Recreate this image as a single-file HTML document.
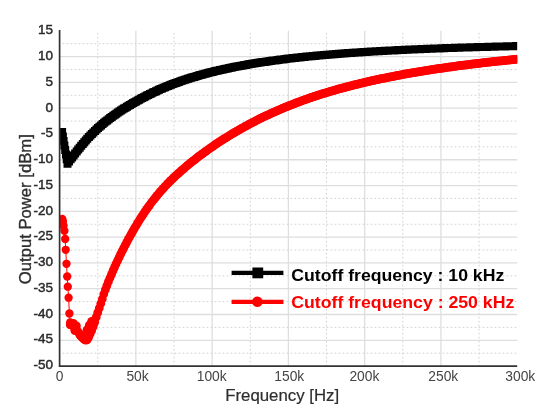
<!DOCTYPE html>
<html lang="en"><head><meta charset="utf-8"><title>Output Power vs Frequency</title>
<style>html,body{margin:0;padding:0;background:#fff}body{width:550px;height:414px;overflow:hidden}svg{display:block}</style></head>
<body>
<svg width="550" height="414" viewBox="0 0 550 414">
<rect width="550" height="414" fill="#fff"/>
<g><line x1="97.73" y1="32.8" x2="97.73" y2="366.1" stroke="#d2d2d2" stroke-width="1" stroke-dasharray="1.7 2.3"/><line x1="135.87" y1="30.8" x2="135.87" y2="366.1" stroke="#dedede" stroke-width="1.3"/><line x1="174.00" y1="32.8" x2="174.00" y2="366.1" stroke="#d2d2d2" stroke-width="1" stroke-dasharray="1.7 2.3"/><line x1="212.13" y1="30.8" x2="212.13" y2="366.1" stroke="#dedede" stroke-width="1.3"/><line x1="250.27" y1="32.8" x2="250.27" y2="366.1" stroke="#d2d2d2" stroke-width="1" stroke-dasharray="1.7 2.3"/><line x1="288.40" y1="30.8" x2="288.40" y2="366.1" stroke="#dedede" stroke-width="1.3"/><line x1="326.53" y1="32.8" x2="326.53" y2="366.1" stroke="#d2d2d2" stroke-width="1" stroke-dasharray="1.7 2.3"/><line x1="364.67" y1="30.8" x2="364.67" y2="366.1" stroke="#dedede" stroke-width="1.3"/><line x1="402.80" y1="32.8" x2="402.80" y2="366.1" stroke="#d2d2d2" stroke-width="1" stroke-dasharray="1.7 2.3"/><line x1="440.93" y1="30.8" x2="440.93" y2="366.1" stroke="#dedede" stroke-width="1.3"/><line x1="479.07" y1="32.8" x2="479.07" y2="366.1" stroke="#d2d2d2" stroke-width="1" stroke-dasharray="1.7 2.3"/><line x1="62.6" y1="43.70" x2="517.2" y2="43.70" stroke="#d2d2d2" stroke-width="1" stroke-dasharray="1.7 2.3"/><line x1="59.6" y1="56.59" x2="517.2" y2="56.59" stroke="#dedede" stroke-width="1.3"/><line x1="62.6" y1="69.49" x2="517.2" y2="69.49" stroke="#d2d2d2" stroke-width="1" stroke-dasharray="1.7 2.3"/><line x1="59.6" y1="82.38" x2="517.2" y2="82.38" stroke="#dedede" stroke-width="1.3"/><line x1="62.6" y1="95.28" x2="517.2" y2="95.28" stroke="#d2d2d2" stroke-width="1" stroke-dasharray="1.7 2.3"/><line x1="59.6" y1="108.18" x2="517.2" y2="108.18" stroke="#dedede" stroke-width="1.3"/><line x1="62.6" y1="121.07" x2="517.2" y2="121.07" stroke="#d2d2d2" stroke-width="1" stroke-dasharray="1.7 2.3"/><line x1="59.6" y1="133.97" x2="517.2" y2="133.97" stroke="#dedede" stroke-width="1.3"/><line x1="62.6" y1="146.87" x2="517.2" y2="146.87" stroke="#d2d2d2" stroke-width="1" stroke-dasharray="1.7 2.3"/><line x1="59.6" y1="159.76" x2="517.2" y2="159.76" stroke="#dedede" stroke-width="1.3"/><line x1="62.6" y1="172.66" x2="517.2" y2="172.66" stroke="#d2d2d2" stroke-width="1" stroke-dasharray="1.7 2.3"/><line x1="59.6" y1="185.55" x2="517.2" y2="185.55" stroke="#dedede" stroke-width="1.3"/><line x1="62.6" y1="198.45" x2="517.2" y2="198.45" stroke="#d2d2d2" stroke-width="1" stroke-dasharray="1.7 2.3"/><line x1="59.6" y1="211.35" x2="517.2" y2="211.35" stroke="#dedede" stroke-width="1.3"/><line x1="62.6" y1="224.24" x2="517.2" y2="224.24" stroke="#d2d2d2" stroke-width="1" stroke-dasharray="1.7 2.3"/><line x1="59.6" y1="237.14" x2="517.2" y2="237.14" stroke="#dedede" stroke-width="1.3"/><line x1="62.6" y1="250.03" x2="517.2" y2="250.03" stroke="#d2d2d2" stroke-width="1" stroke-dasharray="1.7 2.3"/><line x1="59.6" y1="262.93" x2="517.2" y2="262.93" stroke="#dedede" stroke-width="1.3"/><line x1="62.6" y1="275.83" x2="517.2" y2="275.83" stroke="#d2d2d2" stroke-width="1" stroke-dasharray="1.7 2.3"/><line x1="59.6" y1="288.72" x2="517.2" y2="288.72" stroke="#dedede" stroke-width="1.3"/><line x1="62.6" y1="301.62" x2="517.2" y2="301.62" stroke="#d2d2d2" stroke-width="1" stroke-dasharray="1.7 2.3"/><line x1="59.6" y1="314.52" x2="517.2" y2="314.52" stroke="#dedede" stroke-width="1.3"/><line x1="62.6" y1="327.41" x2="517.2" y2="327.41" stroke="#d2d2d2" stroke-width="1" stroke-dasharray="1.7 2.3"/><line x1="59.6" y1="340.31" x2="517.2" y2="340.31" stroke="#dedede" stroke-width="1.3"/><line x1="62.6" y1="353.20" x2="517.2" y2="353.20" stroke="#d2d2d2" stroke-width="1" stroke-dasharray="1.7 2.3"/></g>
<defs><clipPath id="cp"><rect x="59.6" y="0" width="457.6" height="414"/></clipPath></defs>
<g clip-path="url(#cp)"><path d="M58.1 128.0h8.0v8.0h-8.0zM58.9 132.5h8.0v8.0h-8.0zM59.6 137.1h8.0v8.0h-8.0zM60.4 141.6h8.0v8.0h-8.0zM61.2 146.1h8.0v8.0h-8.0zM62.0 150.6h8.0v8.0h-8.0zM62.7 155.2h8.0v8.0h-8.0zM63.5 159.7h8.0v8.0h-8.0zM65.0 157.4h8.0v8.0h-8.0zM66.6 155.2h8.0v8.0h-8.0zM68.1 153.5h8.0v8.0h-8.0zM69.6 151.5h8.0v8.0h-8.0zM71.1 149.6h8.0v8.0h-8.0zM72.7 147.6h8.0v8.0h-8.0zM74.2 145.6h8.0v8.0h-8.0zM75.7 143.7h8.0v8.0h-8.0zM77.2 141.8h8.0v8.0h-8.0zM78.8 140.0h8.0v8.0h-8.0zM80.3 138.2h8.0v8.0h-8.0zM81.8 136.5h8.0v8.0h-8.0zM83.3 134.8h8.0v8.0h-8.0zM84.9 133.1h8.0v8.0h-8.0zM86.4 131.5h8.0v8.0h-8.0zM87.9 129.9h8.0v8.0h-8.0zM89.4 128.4h8.0v8.0h-8.0zM91.0 126.9h8.0v8.0h-8.0zM92.5 125.5h8.0v8.0h-8.0zM94.0 124.1h8.0v8.0h-8.0zM95.5 122.7h8.0v8.0h-8.0zM97.1 121.4h8.0v8.0h-8.0zM98.6 120.1h8.0v8.0h-8.0zM100.1 118.8h8.0v8.0h-8.0zM101.6 117.6h8.0v8.0h-8.0zM103.2 116.4h8.0v8.0h-8.0zM104.7 115.2h8.0v8.0h-8.0zM106.2 114.0h8.0v8.0h-8.0zM107.7 112.9h8.0v8.0h-8.0zM109.3 111.8h8.0v8.0h-8.0zM110.8 110.7h8.0v8.0h-8.0zM112.3 109.7h8.0v8.0h-8.0zM113.8 108.6h8.0v8.0h-8.0zM115.4 107.6h8.0v8.0h-8.0zM116.9 106.6h8.0v8.0h-8.0zM118.4 105.6h8.0v8.0h-8.0zM119.9 104.6h8.0v8.0h-8.0zM121.5 103.7h8.0v8.0h-8.0zM123.0 102.7h8.0v8.0h-8.0zM124.5 101.8h8.0v8.0h-8.0zM126.0 100.9h8.0v8.0h-8.0zM127.6 100.0h8.0v8.0h-8.0zM129.1 99.1h8.0v8.0h-8.0zM130.6 98.2h8.0v8.0h-8.0zM132.1 97.4h8.0v8.0h-8.0zM133.7 96.5h8.0v8.0h-8.0zM135.2 95.7h8.0v8.0h-8.0zM136.7 94.8h8.0v8.0h-8.0zM138.2 94.0h8.0v8.0h-8.0zM139.8 93.2h8.0v8.0h-8.0zM141.3 92.4h8.0v8.0h-8.0zM142.8 91.6h8.0v8.0h-8.0zM144.3 90.9h8.0v8.0h-8.0zM145.9 90.1h8.0v8.0h-8.0zM147.4 89.4h8.0v8.0h-8.0zM148.9 88.6h8.0v8.0h-8.0zM150.4 87.9h8.0v8.0h-8.0zM152.0 87.2h8.0v8.0h-8.0zM153.5 86.5h8.0v8.0h-8.0zM155.0 85.8h8.0v8.0h-8.0zM156.5 85.1h8.0v8.0h-8.0zM158.1 84.5h8.0v8.0h-8.0zM159.6 83.8h8.0v8.0h-8.0zM161.1 83.2h8.0v8.0h-8.0zM162.6 82.5h8.0v8.0h-8.0zM164.2 81.9h8.0v8.0h-8.0zM165.7 81.3h8.0v8.0h-8.0zM167.2 80.7h8.0v8.0h-8.0zM168.7 80.1h8.0v8.0h-8.0zM170.3 79.5h8.0v8.0h-8.0zM171.8 79.0h8.0v8.0h-8.0zM173.3 78.4h8.0v8.0h-8.0zM174.8 77.9h8.0v8.0h-8.0zM176.4 77.3h8.0v8.0h-8.0zM177.9 76.8h8.0v8.0h-8.0zM179.4 76.3h8.0v8.0h-8.0zM181.0 75.8h8.0v8.0h-8.0zM182.5 75.2h8.0v8.0h-8.0zM184.0 74.8h8.0v8.0h-8.0zM185.5 74.3h8.0v8.0h-8.0zM187.1 73.8h8.0v8.0h-8.0zM188.6 73.3h8.0v8.0h-8.0zM190.1 72.9h8.0v8.0h-8.0zM191.6 72.4h8.0v8.0h-8.0zM193.2 72.0h8.0v8.0h-8.0zM194.7 71.5h8.0v8.0h-8.0zM196.2 71.1h8.0v8.0h-8.0zM197.7 70.7h8.0v8.0h-8.0zM199.3 70.2h8.0v8.0h-8.0zM200.8 69.8h8.0v8.0h-8.0zM202.3 69.4h8.0v8.0h-8.0zM203.8 69.0h8.0v8.0h-8.0zM205.4 68.6h8.0v8.0h-8.0zM206.9 68.3h8.0v8.0h-8.0zM208.4 67.9h8.0v8.0h-8.0zM209.9 67.5h8.0v8.0h-8.0zM211.5 67.1h8.0v8.0h-8.0zM213.0 66.8h8.0v8.0h-8.0zM214.5 66.4h8.0v8.0h-8.0zM216.0 66.1h8.0v8.0h-8.0zM217.6 65.7h8.0v8.0h-8.0zM219.1 65.4h8.0v8.0h-8.0zM220.6 65.0h8.0v8.0h-8.0zM222.1 64.7h8.0v8.0h-8.0zM223.7 64.4h8.0v8.0h-8.0zM225.2 64.1h8.0v8.0h-8.0zM226.7 63.8h8.0v8.0h-8.0zM228.2 63.4h8.0v8.0h-8.0zM229.8 63.1h8.0v8.0h-8.0zM231.3 62.8h8.0v8.0h-8.0zM232.8 62.5h8.0v8.0h-8.0zM234.3 62.2h8.0v8.0h-8.0zM235.9 62.0h8.0v8.0h-8.0zM237.4 61.7h8.0v8.0h-8.0zM238.9 61.4h8.0v8.0h-8.0zM240.4 61.1h8.0v8.0h-8.0zM242.0 60.9h8.0v8.0h-8.0zM243.5 60.6h8.0v8.0h-8.0zM245.0 60.3h8.0v8.0h-8.0zM246.5 60.1h8.0v8.0h-8.0zM248.1 59.8h8.0v8.0h-8.0zM249.6 59.6h8.0v8.0h-8.0zM251.1 59.3h8.0v8.0h-8.0zM252.6 59.1h8.0v8.0h-8.0zM254.2 58.8h8.0v8.0h-8.0zM255.7 58.6h8.0v8.0h-8.0zM257.2 58.3h8.0v8.0h-8.0zM258.7 58.1h8.0v8.0h-8.0zM260.3 57.9h8.0v8.0h-8.0zM261.8 57.7h8.0v8.0h-8.0zM263.3 57.4h8.0v8.0h-8.0zM264.8 57.2h8.0v8.0h-8.0zM266.4 57.0h8.0v8.0h-8.0zM267.9 56.8h8.0v8.0h-8.0zM269.4 56.6h8.0v8.0h-8.0zM270.9 56.4h8.0v8.0h-8.0zM272.5 56.2h8.0v8.0h-8.0zM274.0 56.0h8.0v8.0h-8.0zM275.5 55.8h8.0v8.0h-8.0zM277.0 55.6h8.0v8.0h-8.0zM278.6 55.4h8.0v8.0h-8.0zM280.1 55.2h8.0v8.0h-8.0zM281.6 55.0h8.0v8.0h-8.0zM283.1 54.8h8.0v8.0h-8.0zM284.7 54.6h8.0v8.0h-8.0zM286.2 54.5h8.0v8.0h-8.0zM287.7 54.3h8.0v8.0h-8.0zM289.2 54.1h8.0v8.0h-8.0zM290.8 53.9h8.0v8.0h-8.0zM292.3 53.8h8.0v8.0h-8.0zM293.8 53.6h8.0v8.0h-8.0zM295.4 53.4h8.0v8.0h-8.0zM296.9 53.3h8.0v8.0h-8.0zM298.4 53.1h8.0v8.0h-8.0zM299.9 52.9h8.0v8.0h-8.0zM301.5 52.8h8.0v8.0h-8.0zM303.0 52.6h8.0v8.0h-8.0zM304.5 52.5h8.0v8.0h-8.0zM306.0 52.3h8.0v8.0h-8.0zM307.6 52.2h8.0v8.0h-8.0zM309.1 52.0h8.0v8.0h-8.0zM310.6 51.9h8.0v8.0h-8.0zM312.1 51.7h8.0v8.0h-8.0zM313.7 51.6h8.0v8.0h-8.0zM315.2 51.5h8.0v8.0h-8.0zM316.7 51.3h8.0v8.0h-8.0zM318.2 51.2h8.0v8.0h-8.0zM319.8 51.1h8.0v8.0h-8.0zM321.3 50.9h8.0v8.0h-8.0zM322.8 50.8h8.0v8.0h-8.0zM324.3 50.7h8.0v8.0h-8.0zM325.9 50.5h8.0v8.0h-8.0zM327.4 50.4h8.0v8.0h-8.0zM328.9 50.3h8.0v8.0h-8.0zM330.4 50.2h8.0v8.0h-8.0zM332.0 50.0h8.0v8.0h-8.0zM333.5 49.9h8.0v8.0h-8.0zM335.0 49.8h8.0v8.0h-8.0zM336.5 49.7h8.0v8.0h-8.0zM338.1 49.6h8.0v8.0h-8.0zM339.6 49.5h8.0v8.0h-8.0zM341.1 49.3h8.0v8.0h-8.0zM342.6 49.2h8.0v8.0h-8.0zM344.2 49.1h8.0v8.0h-8.0zM345.7 49.0h8.0v8.0h-8.0zM347.2 48.9h8.0v8.0h-8.0zM348.7 48.8h8.0v8.0h-8.0zM350.3 48.7h8.0v8.0h-8.0zM351.8 48.6h8.0v8.0h-8.0zM353.3 48.5h8.0v8.0h-8.0zM354.8 48.4h8.0v8.0h-8.0zM356.4 48.3h8.0v8.0h-8.0zM357.9 48.2h8.0v8.0h-8.0zM359.4 48.1h8.0v8.0h-8.0zM360.9 48.0h8.0v8.0h-8.0zM362.5 47.9h8.0v8.0h-8.0zM364.0 47.8h8.0v8.0h-8.0zM365.5 47.7h8.0v8.0h-8.0zM367.0 47.6h8.0v8.0h-8.0zM368.6 47.5h8.0v8.0h-8.0zM370.1 47.4h8.0v8.0h-8.0zM371.6 47.3h8.0v8.0h-8.0zM373.1 47.3h8.0v8.0h-8.0zM374.7 47.2h8.0v8.0h-8.0zM376.2 47.1h8.0v8.0h-8.0zM377.7 47.0h8.0v8.0h-8.0zM379.2 46.9h8.0v8.0h-8.0zM380.8 46.8h8.0v8.0h-8.0zM382.3 46.8h8.0v8.0h-8.0zM383.8 46.7h8.0v8.0h-8.0zM385.3 46.6h8.0v8.0h-8.0zM386.9 46.5h8.0v8.0h-8.0zM388.4 46.4h8.0v8.0h-8.0zM389.9 46.4h8.0v8.0h-8.0zM391.4 46.3h8.0v8.0h-8.0zM393.0 46.2h8.0v8.0h-8.0zM394.5 46.1h8.0v8.0h-8.0zM396.0 46.1h8.0v8.0h-8.0zM397.5 46.0h8.0v8.0h-8.0zM399.1 45.9h8.0v8.0h-8.0zM400.6 45.8h8.0v8.0h-8.0zM402.1 45.8h8.0v8.0h-8.0zM403.6 45.7h8.0v8.0h-8.0zM405.2 45.6h8.0v8.0h-8.0zM406.7 45.6h8.0v8.0h-8.0zM408.2 45.5h8.0v8.0h-8.0zM409.8 45.4h8.0v8.0h-8.0zM411.3 45.3h8.0v8.0h-8.0zM412.8 45.3h8.0v8.0h-8.0zM414.3 45.2h8.0v8.0h-8.0zM415.9 45.2h8.0v8.0h-8.0zM417.4 45.1h8.0v8.0h-8.0zM418.9 45.0h8.0v8.0h-8.0zM420.4 45.0h8.0v8.0h-8.0zM422.0 44.9h8.0v8.0h-8.0zM423.5 44.8h8.0v8.0h-8.0zM425.0 44.8h8.0v8.0h-8.0zM426.5 44.7h8.0v8.0h-8.0zM428.1 44.7h8.0v8.0h-8.0zM429.6 44.6h8.0v8.0h-8.0zM431.1 44.5h8.0v8.0h-8.0zM432.6 44.5h8.0v8.0h-8.0zM434.2 44.4h8.0v8.0h-8.0zM435.7 44.4h8.0v8.0h-8.0zM437.2 44.3h8.0v8.0h-8.0zM438.7 44.3h8.0v8.0h-8.0zM440.3 44.2h8.0v8.0h-8.0zM441.8 44.1h8.0v8.0h-8.0zM443.3 44.1h8.0v8.0h-8.0zM444.8 44.0h8.0v8.0h-8.0zM446.4 44.0h8.0v8.0h-8.0zM447.9 43.9h8.0v8.0h-8.0zM449.4 43.9h8.0v8.0h-8.0zM450.9 43.8h8.0v8.0h-8.0zM452.5 43.8h8.0v8.0h-8.0zM454.0 43.7h8.0v8.0h-8.0zM455.5 43.7h8.0v8.0h-8.0zM457.0 43.6h8.0v8.0h-8.0zM458.6 43.6h8.0v8.0h-8.0zM460.1 43.5h8.0v8.0h-8.0zM461.6 43.5h8.0v8.0h-8.0zM463.1 43.4h8.0v8.0h-8.0zM464.7 43.4h8.0v8.0h-8.0zM466.2 43.3h8.0v8.0h-8.0zM467.7 43.3h8.0v8.0h-8.0zM469.2 43.2h8.0v8.0h-8.0zM470.8 43.2h8.0v8.0h-8.0zM472.3 43.2h8.0v8.0h-8.0zM473.8 43.1h8.0v8.0h-8.0zM475.3 43.1h8.0v8.0h-8.0zM476.9 43.0h8.0v8.0h-8.0zM478.4 43.0h8.0v8.0h-8.0zM479.9 42.9h8.0v8.0h-8.0zM481.4 42.9h8.0v8.0h-8.0zM483.0 42.9h8.0v8.0h-8.0zM484.5 42.8h8.0v8.0h-8.0zM486.0 42.8h8.0v8.0h-8.0zM487.5 42.7h8.0v8.0h-8.0zM489.1 42.7h8.0v8.0h-8.0zM490.6 42.7h8.0v8.0h-8.0zM492.1 42.6h8.0v8.0h-8.0zM493.6 42.6h8.0v8.0h-8.0zM495.2 42.5h8.0v8.0h-8.0zM496.7 42.5h8.0v8.0h-8.0zM498.2 42.5h8.0v8.0h-8.0zM499.7 42.4h8.0v8.0h-8.0zM501.3 42.4h8.0v8.0h-8.0zM502.8 42.3h8.0v8.0h-8.0zM504.3 42.3h8.0v8.0h-8.0zM505.8 42.3h8.0v8.0h-8.0zM507.4 42.2h8.0v8.0h-8.0zM508.9 42.2h8.0v8.0h-8.0zM510.4 42.2h8.0v8.0h-8.0zM511.9 42.1h8.0v8.0h-8.0z" fill="#000"/>
<path d="M62.3 218.9 L62.9 221.5 L63.5 225.8 L64.4 230.8 L65.2 239.0 L65.7 249.8 L66.5 263.8 L67.2 276.5 L67.8 286.7 L68.6 297.7 L69.4 313.5 L70.3 322.7 L71.8 324.4 L73.3 323.3 L74.9 329.5 L76.4 325.9 L77.9 331.5 L79.4 333.5 L81.0 336.1 L82.5 337.9 L84.0 339.2 L85.5 340.2 L87.1 339.8 L88.6 337.3 L90.1 334.0 L91.6 330.7 L93.2 326.6 L94.7 322.3 L96.2 317.2 L97.7 312.7 L99.3 308.1 L100.8 303.5 L102.3 299.0 L103.8 294.0 L105.4 289.6 L106.9 285.6 L108.4 281.7 L109.9 278.0 L111.5 274.3 L113.0 270.7 L114.5 267.3 L116.0 263.9 L117.6 260.6 L119.1 257.4 L120.6 254.2 L122.1 251.2 L123.7 248.1 L125.2 245.2 L126.7 242.3 L128.2 239.4 L129.8 236.6 L131.3 233.9 L132.8 231.2 L134.3 228.6 L135.9 226.0 L137.4 223.4 L138.9 221.0 L140.4 218.5 L142.0 216.2 L143.5 213.8 L145.0 211.6 L146.5 209.4 L148.1 207.2 L149.6 205.1 L151.1 203.0 L152.6 201.0 L154.2 199.1 L155.7 197.2 L157.2 195.3 L158.7 193.5 L160.3 191.7 L161.8 190.0 L163.3 188.3 L164.8 186.6 L166.4 185.0 L167.9 183.4 L169.4 181.9 L170.9 180.4 L172.5 178.9 L174.0 177.4 L175.5 175.9 L177.1 174.5 L178.6 173.1 L180.1 171.8 L181.6 170.4 L183.2 169.1 L184.7 167.8 L186.2 166.5 L187.7 165.2 L189.3 163.9 L190.8 162.7 L192.3 161.5 L193.8 160.3 L195.4 159.1 L196.9 157.9 L198.4 156.7 L199.9 155.6 L201.5 154.5 L203.0 153.3 L204.5 152.2 L206.0 151.1 L207.6 150.0 L209.1 149.0 L210.6 147.9 L212.1 146.8 L213.7 145.8 L215.2 144.7 L216.7 143.7 L218.2 142.7 L219.8 141.7 L221.3 140.7 L222.8 139.7 L224.3 138.7 L225.9 137.8 L227.4 136.8 L228.9 135.9 L230.4 135.0 L232.0 134.0 L233.5 133.1 L235.0 132.2 L236.5 131.3 L238.1 130.4 L239.6 129.6 L241.1 128.7 L242.6 127.8 L244.2 127.0 L245.7 126.1 L247.2 125.3 L248.7 124.5 L250.3 123.7 L251.8 122.9 L253.3 122.1 L254.8 121.3 L256.4 120.5 L257.9 119.7 L259.4 119.0 L260.9 118.2 L262.5 117.5 L264.0 116.7 L265.5 116.0 L267.0 115.3 L268.6 114.6 L270.1 113.9 L271.6 113.2 L273.1 112.5 L274.7 111.8 L276.2 111.1 L277.7 110.5 L279.2 109.8 L280.8 109.1 L282.3 108.5 L283.8 107.9 L285.3 107.2 L286.9 106.6 L288.4 106.0 L289.9 105.4 L291.5 104.8 L293.0 104.2 L294.5 103.6 L296.0 103.0 L297.6 102.4 L299.1 101.8 L300.6 101.3 L302.1 100.7 L303.7 100.2 L305.2 99.6 L306.7 99.1 L308.2 98.5 L309.8 98.0 L311.3 97.5 L312.8 97.0 L314.3 96.5 L315.9 96.0 L317.4 95.5 L318.9 95.0 L320.4 94.5 L322.0 94.0 L323.5 93.5 L325.0 93.1 L326.5 92.6 L328.1 92.1 L329.6 91.7 L331.1 91.2 L332.6 90.8 L334.2 90.3 L335.7 89.9 L337.2 89.5 L338.7 89.0 L340.3 88.6 L341.8 88.2 L343.3 87.8 L344.8 87.4 L346.4 87.0 L347.9 86.6 L349.4 86.2 L350.9 85.8 L352.5 85.4 L354.0 85.0 L355.5 84.6 L357.0 84.3 L358.6 83.9 L360.1 83.5 L361.6 83.1 L363.1 82.8 L364.7 82.4 L366.2 82.1 L367.7 81.7 L369.2 81.4 L370.8 81.0 L372.3 80.7 L373.8 80.4 L375.3 80.0 L376.9 79.7 L378.4 79.4 L379.9 79.0 L381.4 78.7 L383.0 78.4 L384.5 78.1 L386.0 77.8 L387.5 77.5 L389.1 77.2 L390.6 76.9 L392.1 76.6 L393.6 76.3 L395.2 76.0 L396.7 75.7 L398.2 75.4 L399.7 75.1 L401.3 74.8 L402.8 74.5 L404.3 74.2 L405.9 74.0 L407.4 73.7 L408.9 73.4 L410.4 73.2 L412.0 72.9 L413.5 72.6 L415.0 72.4 L416.5 72.1 L418.1 71.9 L419.6 71.6 L421.1 71.4 L422.6 71.1 L424.2 70.9 L425.7 70.6 L427.2 70.4 L428.7 70.1 L430.3 69.9 L431.8 69.7 L433.3 69.4 L434.8 69.2 L436.4 69.0 L437.9 68.7 L439.4 68.5 L440.9 68.3 L442.5 68.1 L444.0 67.8 L445.5 67.6 L447.0 67.4 L448.6 67.2 L450.1 67.0 L451.6 66.8 L453.1 66.6 L454.7 66.4 L456.2 66.1 L457.7 65.9 L459.2 65.7 L460.8 65.5 L462.3 65.3 L463.8 65.2 L465.3 65.0 L466.9 64.8 L468.4 64.6 L469.9 64.4 L471.4 64.2 L473.0 64.0 L474.5 63.8 L476.0 63.6 L477.5 63.5 L479.1 63.3 L480.6 63.1 L482.1 62.9 L483.6 62.7 L485.2 62.6 L486.7 62.4 L488.2 62.2 L489.7 62.1 L491.3 61.9 L492.8 61.7 L494.3 61.6 L495.8 61.4 L497.4 61.2 L498.9 61.1 L500.4 60.9 L501.9 60.8 L503.5 60.6 L505.0 60.4 L506.5 60.3 L508.0 60.1 L509.6 60.0 L511.1 59.8 L512.6 59.7 L514.1 59.5 L515.7 59.4 L517.2 59.2" fill="none" stroke="#f00" stroke-width="1"/>
<g fill="#f00"><circle cx="62.3" cy="218.9" r="4.15"/><circle cx="62.9" cy="221.5" r="4.15"/><circle cx="63.5" cy="225.8" r="4.15"/><circle cx="64.4" cy="230.8" r="4.15"/><circle cx="65.2" cy="239.0" r="4.15"/><circle cx="65.7" cy="249.8" r="4.15"/><circle cx="66.5" cy="263.8" r="4.15"/><circle cx="67.2" cy="276.5" r="4.15"/><circle cx="67.8" cy="286.7" r="4.15"/><circle cx="68.6" cy="297.7" r="4.15"/><circle cx="69.4" cy="313.5" r="4.15"/><circle cx="70.3" cy="322.7" r="4.4"/><circle cx="71.8" cy="324.4" r="4.4"/><circle cx="73.3" cy="323.3" r="4.4"/><circle cx="74.9" cy="329.5" r="4.4"/><circle cx="76.4" cy="325.9" r="4.4"/><circle cx="77.9" cy="331.5" r="4.4"/><circle cx="79.4" cy="333.5" r="4.4"/><circle cx="81.0" cy="336.1" r="4.4"/><circle cx="82.5" cy="337.9" r="4.4"/><circle cx="84.0" cy="339.2" r="4.4"/><circle cx="85.5" cy="340.2" r="4.4"/><circle cx="87.1" cy="339.8" r="4.4"/><circle cx="88.6" cy="337.3" r="4.4"/><circle cx="90.1" cy="334.0" r="4.4"/><circle cx="91.6" cy="330.7" r="4.4"/><circle cx="93.2" cy="326.6" r="4.4"/><circle cx="94.7" cy="322.3" r="4.4"/><circle cx="96.2" cy="317.2" r="4.4"/><circle cx="97.7" cy="312.7" r="4.4"/><circle cx="99.3" cy="308.1" r="4.4"/><circle cx="100.8" cy="303.5" r="4.4"/><circle cx="102.3" cy="299.0" r="4.4"/><circle cx="103.8" cy="294.0" r="4.4"/><circle cx="105.4" cy="289.6" r="4.4"/><circle cx="106.9" cy="285.6" r="4.4"/><circle cx="108.4" cy="281.7" r="4.4"/><circle cx="109.9" cy="278.0" r="4.4"/><circle cx="111.5" cy="274.3" r="4.4"/><circle cx="113.0" cy="270.7" r="4.4"/><circle cx="114.5" cy="267.3" r="4.4"/><circle cx="116.0" cy="263.9" r="4.4"/><circle cx="117.6" cy="260.6" r="4.4"/><circle cx="119.1" cy="257.4" r="4.4"/><circle cx="120.6" cy="254.2" r="4.4"/><circle cx="122.1" cy="251.2" r="4.4"/><circle cx="123.7" cy="248.1" r="4.4"/><circle cx="125.2" cy="245.2" r="4.4"/><circle cx="126.7" cy="242.3" r="4.4"/><circle cx="128.2" cy="239.4" r="4.4"/><circle cx="129.8" cy="236.6" r="4.4"/><circle cx="131.3" cy="233.9" r="4.4"/><circle cx="132.8" cy="231.2" r="4.4"/><circle cx="134.3" cy="228.6" r="4.4"/><circle cx="135.9" cy="226.0" r="4.4"/><circle cx="137.4" cy="223.4" r="4.4"/><circle cx="138.9" cy="221.0" r="4.4"/><circle cx="140.4" cy="218.5" r="4.4"/><circle cx="142.0" cy="216.2" r="4.4"/><circle cx="143.5" cy="213.8" r="4.4"/><circle cx="145.0" cy="211.6" r="4.4"/><circle cx="146.5" cy="209.4" r="4.4"/><circle cx="148.1" cy="207.2" r="4.4"/><circle cx="149.6" cy="205.1" r="4.4"/><circle cx="151.1" cy="203.0" r="4.4"/><circle cx="152.6" cy="201.0" r="4.4"/><circle cx="154.2" cy="199.1" r="4.4"/><circle cx="155.7" cy="197.2" r="4.4"/><circle cx="157.2" cy="195.3" r="4.4"/><circle cx="158.7" cy="193.5" r="4.4"/><circle cx="160.3" cy="191.7" r="4.4"/><circle cx="161.8" cy="190.0" r="4.4"/><circle cx="163.3" cy="188.3" r="4.4"/><circle cx="164.8" cy="186.6" r="4.4"/><circle cx="166.4" cy="185.0" r="4.4"/><circle cx="167.9" cy="183.4" r="4.4"/><circle cx="169.4" cy="181.9" r="4.4"/><circle cx="170.9" cy="180.4" r="4.4"/><circle cx="172.5" cy="178.9" r="4.4"/><circle cx="174.0" cy="177.4" r="4.4"/><circle cx="175.5" cy="175.9" r="4.4"/><circle cx="177.1" cy="174.5" r="4.4"/><circle cx="178.6" cy="173.1" r="4.4"/><circle cx="180.1" cy="171.8" r="4.4"/><circle cx="181.6" cy="170.4" r="4.4"/><circle cx="183.2" cy="169.1" r="4.4"/><circle cx="184.7" cy="167.8" r="4.4"/><circle cx="186.2" cy="166.5" r="4.4"/><circle cx="187.7" cy="165.2" r="4.4"/><circle cx="189.3" cy="163.9" r="4.4"/><circle cx="190.8" cy="162.7" r="4.4"/><circle cx="192.3" cy="161.5" r="4.4"/><circle cx="193.8" cy="160.3" r="4.4"/><circle cx="195.4" cy="159.1" r="4.4"/><circle cx="196.9" cy="157.9" r="4.4"/><circle cx="198.4" cy="156.7" r="4.4"/><circle cx="199.9" cy="155.6" r="4.4"/><circle cx="201.5" cy="154.5" r="4.4"/><circle cx="203.0" cy="153.3" r="4.4"/><circle cx="204.5" cy="152.2" r="4.4"/><circle cx="206.0" cy="151.1" r="4.4"/><circle cx="207.6" cy="150.0" r="4.4"/><circle cx="209.1" cy="149.0" r="4.4"/><circle cx="210.6" cy="147.9" r="4.4"/><circle cx="212.1" cy="146.8" r="4.4"/><circle cx="213.7" cy="145.8" r="4.4"/><circle cx="215.2" cy="144.7" r="4.4"/><circle cx="216.7" cy="143.7" r="4.4"/><circle cx="218.2" cy="142.7" r="4.4"/><circle cx="219.8" cy="141.7" r="4.4"/><circle cx="221.3" cy="140.7" r="4.4"/><circle cx="222.8" cy="139.7" r="4.4"/><circle cx="224.3" cy="138.7" r="4.4"/><circle cx="225.9" cy="137.8" r="4.4"/><circle cx="227.4" cy="136.8" r="4.4"/><circle cx="228.9" cy="135.9" r="4.4"/><circle cx="230.4" cy="135.0" r="4.4"/><circle cx="232.0" cy="134.0" r="4.4"/><circle cx="233.5" cy="133.1" r="4.4"/><circle cx="235.0" cy="132.2" r="4.4"/><circle cx="236.5" cy="131.3" r="4.4"/><circle cx="238.1" cy="130.4" r="4.4"/><circle cx="239.6" cy="129.6" r="4.4"/><circle cx="241.1" cy="128.7" r="4.4"/><circle cx="242.6" cy="127.8" r="4.4"/><circle cx="244.2" cy="127.0" r="4.4"/><circle cx="245.7" cy="126.1" r="4.4"/><circle cx="247.2" cy="125.3" r="4.4"/><circle cx="248.7" cy="124.5" r="4.4"/><circle cx="250.3" cy="123.7" r="4.4"/><circle cx="251.8" cy="122.9" r="4.4"/><circle cx="253.3" cy="122.1" r="4.4"/><circle cx="254.8" cy="121.3" r="4.4"/><circle cx="256.4" cy="120.5" r="4.4"/><circle cx="257.9" cy="119.7" r="4.4"/><circle cx="259.4" cy="119.0" r="4.4"/><circle cx="260.9" cy="118.2" r="4.4"/><circle cx="262.5" cy="117.5" r="4.4"/><circle cx="264.0" cy="116.7" r="4.4"/><circle cx="265.5" cy="116.0" r="4.4"/><circle cx="267.0" cy="115.3" r="4.4"/><circle cx="268.6" cy="114.6" r="4.4"/><circle cx="270.1" cy="113.9" r="4.4"/><circle cx="271.6" cy="113.2" r="4.4"/><circle cx="273.1" cy="112.5" r="4.4"/><circle cx="274.7" cy="111.8" r="4.4"/><circle cx="276.2" cy="111.1" r="4.4"/><circle cx="277.7" cy="110.5" r="4.4"/><circle cx="279.2" cy="109.8" r="4.4"/><circle cx="280.8" cy="109.1" r="4.4"/><circle cx="282.3" cy="108.5" r="4.4"/><circle cx="283.8" cy="107.9" r="4.4"/><circle cx="285.3" cy="107.2" r="4.4"/><circle cx="286.9" cy="106.6" r="4.4"/><circle cx="288.4" cy="106.0" r="4.4"/><circle cx="289.9" cy="105.4" r="4.4"/><circle cx="291.5" cy="104.8" r="4.4"/><circle cx="293.0" cy="104.2" r="4.4"/><circle cx="294.5" cy="103.6" r="4.4"/><circle cx="296.0" cy="103.0" r="4.4"/><circle cx="297.6" cy="102.4" r="4.4"/><circle cx="299.1" cy="101.8" r="4.4"/><circle cx="300.6" cy="101.3" r="4.4"/><circle cx="302.1" cy="100.7" r="4.4"/><circle cx="303.7" cy="100.2" r="4.4"/><circle cx="305.2" cy="99.6" r="4.4"/><circle cx="306.7" cy="99.1" r="4.4"/><circle cx="308.2" cy="98.5" r="4.4"/><circle cx="309.8" cy="98.0" r="4.4"/><circle cx="311.3" cy="97.5" r="4.4"/><circle cx="312.8" cy="97.0" r="4.4"/><circle cx="314.3" cy="96.5" r="4.4"/><circle cx="315.9" cy="96.0" r="4.4"/><circle cx="317.4" cy="95.5" r="4.4"/><circle cx="318.9" cy="95.0" r="4.4"/><circle cx="320.4" cy="94.5" r="4.4"/><circle cx="322.0" cy="94.0" r="4.4"/><circle cx="323.5" cy="93.5" r="4.4"/><circle cx="325.0" cy="93.1" r="4.4"/><circle cx="326.5" cy="92.6" r="4.4"/><circle cx="328.1" cy="92.1" r="4.4"/><circle cx="329.6" cy="91.7" r="4.4"/><circle cx="331.1" cy="91.2" r="4.4"/><circle cx="332.6" cy="90.8" r="4.4"/><circle cx="334.2" cy="90.3" r="4.4"/><circle cx="335.7" cy="89.9" r="4.4"/><circle cx="337.2" cy="89.5" r="4.4"/><circle cx="338.7" cy="89.0" r="4.4"/><circle cx="340.3" cy="88.6" r="4.4"/><circle cx="341.8" cy="88.2" r="4.4"/><circle cx="343.3" cy="87.8" r="4.4"/><circle cx="344.8" cy="87.4" r="4.4"/><circle cx="346.4" cy="87.0" r="4.4"/><circle cx="347.9" cy="86.6" r="4.4"/><circle cx="349.4" cy="86.2" r="4.4"/><circle cx="350.9" cy="85.8" r="4.4"/><circle cx="352.5" cy="85.4" r="4.4"/><circle cx="354.0" cy="85.0" r="4.4"/><circle cx="355.5" cy="84.6" r="4.4"/><circle cx="357.0" cy="84.3" r="4.4"/><circle cx="358.6" cy="83.9" r="4.4"/><circle cx="360.1" cy="83.5" r="4.4"/><circle cx="361.6" cy="83.1" r="4.4"/><circle cx="363.1" cy="82.8" r="4.4"/><circle cx="364.7" cy="82.4" r="4.4"/><circle cx="366.2" cy="82.1" r="4.4"/><circle cx="367.7" cy="81.7" r="4.4"/><circle cx="369.2" cy="81.4" r="4.4"/><circle cx="370.8" cy="81.0" r="4.4"/><circle cx="372.3" cy="80.7" r="4.4"/><circle cx="373.8" cy="80.4" r="4.4"/><circle cx="375.3" cy="80.0" r="4.4"/><circle cx="376.9" cy="79.7" r="4.4"/><circle cx="378.4" cy="79.4" r="4.4"/><circle cx="379.9" cy="79.0" r="4.4"/><circle cx="381.4" cy="78.7" r="4.4"/><circle cx="383.0" cy="78.4" r="4.4"/><circle cx="384.5" cy="78.1" r="4.4"/><circle cx="386.0" cy="77.8" r="4.4"/><circle cx="387.5" cy="77.5" r="4.4"/><circle cx="389.1" cy="77.2" r="4.4"/><circle cx="390.6" cy="76.9" r="4.4"/><circle cx="392.1" cy="76.6" r="4.4"/><circle cx="393.6" cy="76.3" r="4.4"/><circle cx="395.2" cy="76.0" r="4.4"/><circle cx="396.7" cy="75.7" r="4.4"/><circle cx="398.2" cy="75.4" r="4.4"/><circle cx="399.7" cy="75.1" r="4.4"/><circle cx="401.3" cy="74.8" r="4.4"/><circle cx="402.8" cy="74.5" r="4.4"/><circle cx="404.3" cy="74.2" r="4.4"/><circle cx="405.9" cy="74.0" r="4.4"/><circle cx="407.4" cy="73.7" r="4.4"/><circle cx="408.9" cy="73.4" r="4.4"/><circle cx="410.4" cy="73.2" r="4.4"/><circle cx="412.0" cy="72.9" r="4.4"/><circle cx="413.5" cy="72.6" r="4.4"/><circle cx="415.0" cy="72.4" r="4.4"/><circle cx="416.5" cy="72.1" r="4.4"/><circle cx="418.1" cy="71.9" r="4.4"/><circle cx="419.6" cy="71.6" r="4.4"/><circle cx="421.1" cy="71.4" r="4.4"/><circle cx="422.6" cy="71.1" r="4.4"/><circle cx="424.2" cy="70.9" r="4.4"/><circle cx="425.7" cy="70.6" r="4.4"/><circle cx="427.2" cy="70.4" r="4.4"/><circle cx="428.7" cy="70.1" r="4.4"/><circle cx="430.3" cy="69.9" r="4.4"/><circle cx="431.8" cy="69.7" r="4.4"/><circle cx="433.3" cy="69.4" r="4.4"/><circle cx="434.8" cy="69.2" r="4.4"/><circle cx="436.4" cy="69.0" r="4.4"/><circle cx="437.9" cy="68.7" r="4.4"/><circle cx="439.4" cy="68.5" r="4.4"/><circle cx="440.9" cy="68.3" r="4.4"/><circle cx="442.5" cy="68.1" r="4.4"/><circle cx="444.0" cy="67.8" r="4.4"/><circle cx="445.5" cy="67.6" r="4.4"/><circle cx="447.0" cy="67.4" r="4.4"/><circle cx="448.6" cy="67.2" r="4.4"/><circle cx="450.1" cy="67.0" r="4.4"/><circle cx="451.6" cy="66.8" r="4.4"/><circle cx="453.1" cy="66.6" r="4.4"/><circle cx="454.7" cy="66.4" r="4.4"/><circle cx="456.2" cy="66.1" r="4.4"/><circle cx="457.7" cy="65.9" r="4.4"/><circle cx="459.2" cy="65.7" r="4.4"/><circle cx="460.8" cy="65.5" r="4.4"/><circle cx="462.3" cy="65.3" r="4.4"/><circle cx="463.8" cy="65.2" r="4.4"/><circle cx="465.3" cy="65.0" r="4.4"/><circle cx="466.9" cy="64.8" r="4.4"/><circle cx="468.4" cy="64.6" r="4.4"/><circle cx="469.9" cy="64.4" r="4.4"/><circle cx="471.4" cy="64.2" r="4.4"/><circle cx="473.0" cy="64.0" r="4.4"/><circle cx="474.5" cy="63.8" r="4.4"/><circle cx="476.0" cy="63.6" r="4.4"/><circle cx="477.5" cy="63.5" r="4.4"/><circle cx="479.1" cy="63.3" r="4.4"/><circle cx="480.6" cy="63.1" r="4.4"/><circle cx="482.1" cy="62.9" r="4.4"/><circle cx="483.6" cy="62.7" r="4.4"/><circle cx="485.2" cy="62.6" r="4.4"/><circle cx="486.7" cy="62.4" r="4.4"/><circle cx="488.2" cy="62.2" r="4.4"/><circle cx="489.7" cy="62.1" r="4.4"/><circle cx="491.3" cy="61.9" r="4.4"/><circle cx="492.8" cy="61.7" r="4.4"/><circle cx="494.3" cy="61.6" r="4.4"/><circle cx="495.8" cy="61.4" r="4.4"/><circle cx="497.4" cy="61.2" r="4.4"/><circle cx="498.9" cy="61.1" r="4.4"/><circle cx="500.4" cy="60.9" r="4.4"/><circle cx="501.9" cy="60.8" r="4.4"/><circle cx="503.5" cy="60.6" r="4.4"/><circle cx="505.0" cy="60.4" r="4.4"/><circle cx="506.5" cy="60.3" r="4.4"/><circle cx="508.0" cy="60.1" r="4.4"/><circle cx="509.6" cy="60.0" r="4.4"/><circle cx="511.1" cy="59.8" r="4.4"/><circle cx="512.6" cy="59.7" r="4.4"/><circle cx="514.1" cy="59.5" r="4.4"/><circle cx="515.7" cy="59.4" r="4.4"/><circle cx="517.2" cy="59.2" r="4.4"/><circle cx="87.0" cy="329.8" r="4.4"/><circle cx="89.3" cy="325.2" r="4.4"/><circle cx="87.8" cy="333.3" r="4.4"/><circle cx="70.3" cy="324.9" r="4.4"/><circle cx="74.9" cy="330.7" r="4.4"/><circle cx="80.0" cy="335.2" r="4.4"/><circle cx="91.6" cy="321.3" r="4.4"/></g></g>
<line x1="59.6" y1="30.1" x2="59.6" y2="366.8" stroke="#333" stroke-width="1.7"/>
<line x1="58.9" y1="366.1" x2="517.2" y2="366.1" stroke="#333" stroke-width="1.7"/>
<g font-family="'Liberation Sans', Arial, sans-serif" font-size="13.5" fill="#2a2a2a" stroke="#2a2a2a" stroke-width="0.45"><text x="53" y="34.2" text-anchor="end">15</text><text x="53" y="60.0" text-anchor="end">10</text><text x="53" y="85.8" text-anchor="end">5</text><text x="53" y="111.5" text-anchor="end">0</text><text x="53" y="137.3" text-anchor="end">-5</text><text x="53" y="163.1" text-anchor="end">-10</text><text x="53" y="188.8" text-anchor="end">-15</text><text x="53" y="214.6" text-anchor="end">-20</text><text x="53" y="240.3" text-anchor="end">-25</text><text x="53" y="266.1" text-anchor="end">-30</text><text x="53" y="291.9" text-anchor="end">-35</text><text x="53" y="317.6" text-anchor="end">-40</text><text x="53" y="343.4" text-anchor="end">-45</text><text x="53" y="369.1" text-anchor="end">-50</text></g>
<g font-family="'Liberation Sans', Arial, sans-serif" font-size="13.8" fill="#444"><text x="59.6" y="381.2" text-anchor="middle">0</text><text x="137.5" y="381.2" text-anchor="middle">50k</text><text x="211.7" y="381.2" text-anchor="middle">100k</text><text x="289.3" y="381.2" text-anchor="middle">150k</text><text x="364.4" y="381.2" text-anchor="middle">200k</text><text x="443.3" y="381.2" text-anchor="middle">250k</text><text x="520.3" y="381.2" text-anchor="middle">300k</text></g>
<text x="225.2" y="400.5" font-family="'Liberation Sans', Arial, sans-serif" font-size="16" fill="#2e2e2e" stroke="#2e2e2e" stroke-width="0.2" textLength="114" lengthAdjust="spacingAndGlyphs">Frequency [Hz]</text>
<text transform="translate(30.6 284.2) rotate(-90)" font-family="'Liberation Sans', Arial, sans-serif" font-size="16" fill="#2e2e2e" stroke="#2e2e2e" stroke-width="0.35" textLength="150" lengthAdjust="spacingAndGlyphs">Output Power [dBm]</text>
<line x1="231.6" y1="272.8" x2="283.4" y2="272.8" stroke="#000" stroke-width="4.2"/>
<rect x="252.4" y="267.5" width="10.8" height="10.8" fill="#000"/>
<line x1="231.6" y1="301.8" x2="283.4" y2="301.8" stroke="#f00" stroke-width="4.2"/>
<circle cx="257.4" cy="301.8" r="5.3" fill="#f00"/>
<g font-family="'Liberation Sans', Arial, sans-serif" font-weight="bold" font-size="16.8">
<text x="291.3" y="280.5" fill="#000" textLength="213" lengthAdjust="spacingAndGlyphs">Cutoff frequency : 10 kHz</text>
<text x="291.3" y="308.4" fill="#f00" textLength="223" lengthAdjust="spacingAndGlyphs">Cutoff frequency : 250 kHz</text>
</g>
</svg>
</body></html>
